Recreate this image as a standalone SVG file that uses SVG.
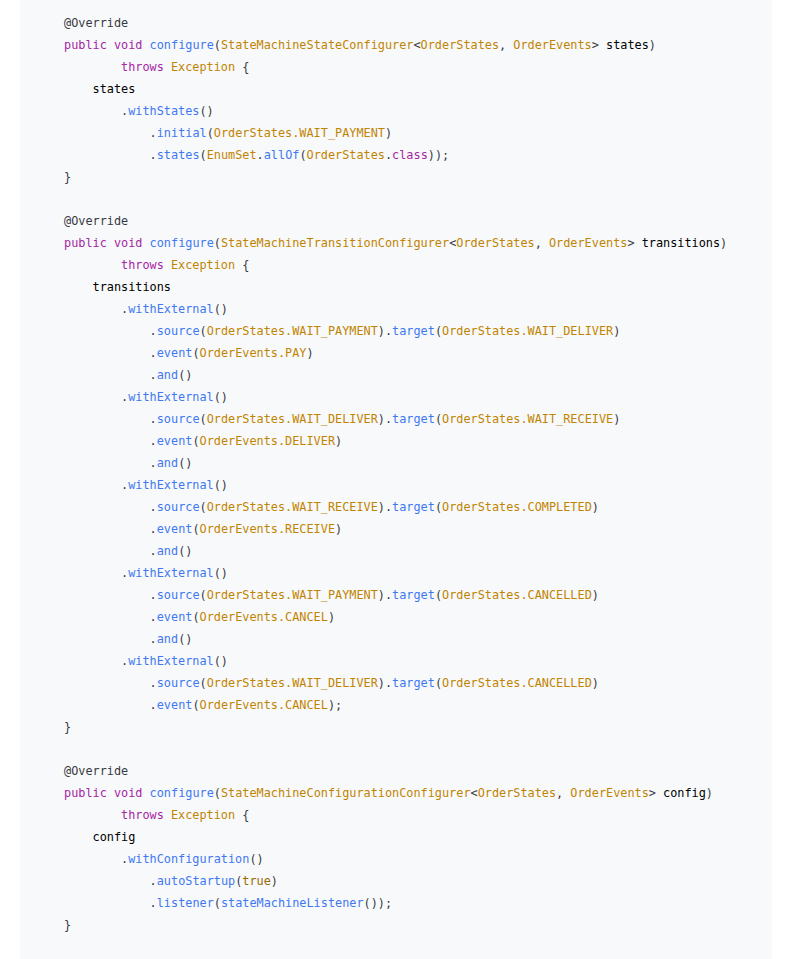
<svg xmlns="http://www.w3.org/2000/svg" width="808" height="959" viewBox="0 0 808 959">
<style>
text{font-family:"DejaVu Sans Mono","Liberation Mono",monospace;font-size:11.85px;fill:#383a42;white-space:pre}
.k{fill:#a626a4}.f{fill:#4078f2}.t{fill:#c18401}.l{fill:#986801}.a{fill:#383a42}.v{fill:#000}
</style>
<rect x="0" y="0" width="808" height="959" fill="#fff"/>
<rect x="20" y="0" width="752" height="959" fill="#f8f9fb"/>
<g id="code" transform="translate(0,1)">
<text x="64" y="26"><tspan class="a">@Override</tspan></text>
<text x="64" y="48"><tspan class="k">public</tspan> <tspan class="k">void</tspan> <tspan class="f">configure</tspan>(<tspan class="t">StateMachineStateConfigurer</tspan>&lt;<tspan class="t">OrderStates</tspan>, <tspan class="t">OrderEvents</tspan>&gt; <tspan class="v">states</tspan>)</text>
<text x="121" y="70"><tspan class="k">throws</tspan> <tspan class="t">Exception</tspan> {</text>
<text x="92.5" y="92" class="v">states</text>
<text x="121" y="114">.<tspan class="f">withStates</tspan>()</text>
<text x="149.6" y="136">.<tspan class="f">initial</tspan>(<tspan class="t">OrderStates.WAIT_PAYMENT</tspan>)</text>
<text x="149.6" y="158">.<tspan class="f">states</tspan>(<tspan class="t">EnumSet</tspan>.<tspan class="f">allOf</tspan>(<tspan class="t">OrderStates</tspan>.<tspan class="k">class</tspan>));</text>
<text x="64" y="180">}</text>

<text x="64" y="224"><tspan class="a">@Override</tspan></text>
<text x="64" y="246"><tspan class="k">public</tspan> <tspan class="k">void</tspan> <tspan class="f">configure</tspan>(<tspan class="t">StateMachineTransitionConfigurer</tspan>&lt;<tspan class="t">OrderStates</tspan>, <tspan class="t">OrderEvents</tspan>&gt; <tspan class="v">transitions</tspan>)</text>
<text x="121" y="268"><tspan class="k">throws</tspan> <tspan class="t">Exception</tspan> {</text>
<text x="92.5" y="290" class="v">transitions</text>
<text x="121" y="312">.<tspan class="f">withExternal</tspan>()</text>
<text x="149.6" y="334">.<tspan class="f">source</tspan>(<tspan class="t">OrderStates.WAIT_PAYMENT</tspan>).<tspan class="f">target</tspan>(<tspan class="t">OrderStates.WAIT_DELIVER</tspan>)</text>
<text x="149.6" y="356">.<tspan class="f">event</tspan>(<tspan class="t">OrderEvents.PAY</tspan>)</text>
<text x="149.6" y="378">.<tspan class="f">and</tspan>()</text>
<text x="121" y="400">.<tspan class="f">withExternal</tspan>()</text>
<text x="149.6" y="422">.<tspan class="f">source</tspan>(<tspan class="t">OrderStates.WAIT_DELIVER</tspan>).<tspan class="f">target</tspan>(<tspan class="t">OrderStates.WAIT_RECEIVE</tspan>)</text>
<text x="149.6" y="444">.<tspan class="f">event</tspan>(<tspan class="t">OrderEvents.DELIVER</tspan>)</text>
<text x="149.6" y="466">.<tspan class="f">and</tspan>()</text>
<text x="121" y="488">.<tspan class="f">withExternal</tspan>()</text>
<text x="149.6" y="510">.<tspan class="f">source</tspan>(<tspan class="t">OrderStates.WAIT_RECEIVE</tspan>).<tspan class="f">target</tspan>(<tspan class="t">OrderStates.COMPLETED</tspan>)</text>
<text x="149.6" y="532">.<tspan class="f">event</tspan>(<tspan class="t">OrderEvents.RECEIVE</tspan>)</text>
<text x="149.6" y="554">.<tspan class="f">and</tspan>()</text>
<text x="121" y="576">.<tspan class="f">withExternal</tspan>()</text>
<text x="149.6" y="598">.<tspan class="f">source</tspan>(<tspan class="t">OrderStates.WAIT_PAYMENT</tspan>).<tspan class="f">target</tspan>(<tspan class="t">OrderStates.CANCELLED</tspan>)</text>
<text x="149.6" y="620">.<tspan class="f">event</tspan>(<tspan class="t">OrderEvents.CANCEL</tspan>)</text>
<text x="149.6" y="642">.<tspan class="f">and</tspan>()</text>
<text x="121" y="664">.<tspan class="f">withExternal</tspan>()</text>
<text x="149.6" y="686">.<tspan class="f">source</tspan>(<tspan class="t">OrderStates.WAIT_DELIVER</tspan>).<tspan class="f">target</tspan>(<tspan class="t">OrderStates.CANCELLED</tspan>)</text>
<text x="149.6" y="708">.<tspan class="f">event</tspan>(<tspan class="t">OrderEvents.CANCEL</tspan>);</text>
<text x="64" y="730">}</text>

<text x="64" y="774"><tspan class="a">@Override</tspan></text>
<text x="64" y="796"><tspan class="k">public</tspan> <tspan class="k">void</tspan> <tspan class="f">configure</tspan>(<tspan class="t">StateMachineConfigurationConfigurer</tspan>&lt;<tspan class="t">OrderStates</tspan>, <tspan class="t">OrderEvents</tspan>&gt; <tspan class="v">config</tspan>)</text>
<text x="121" y="818"><tspan class="k">throws</tspan> <tspan class="t">Exception</tspan> {</text>
<text x="92.5" y="840" class="v">config</text>
<text x="121" y="862">.<tspan class="f">withConfiguration</tspan>()</text>
<text x="149.6" y="884">.<tspan class="f">autoStartup</tspan>(<tspan class="l">true</tspan>)</text>
<text x="149.6" y="906">.<tspan class="f">listener</tspan>(<tspan class="f">stateMachineListener</tspan>());</text>
<text x="64" y="928">}</text>
</g>
</svg>
